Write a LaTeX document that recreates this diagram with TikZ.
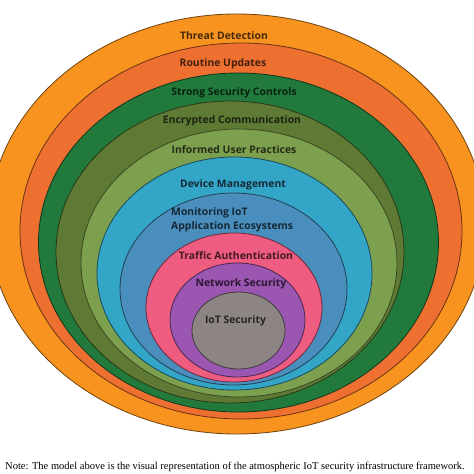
\documentclass[tikz,border=0pt]{standalone}
\usepackage{fontspec}
\setmainfont{Liberation Serif}
\newfontfamily\labfont{Open Sans}
\definecolor{cOrange}{HTML}{F7931E}
\definecolor{cRed}{HTML}{EE7030}
\definecolor{cDkGreen}{HTML}{217A3B}
\definecolor{cOlive}{HTML}{5F7A35}
\definecolor{cLtGreen}{HTML}{7DA04E}
\definecolor{cCyan}{HTML}{33A6C8}
\definecolor{cSteel}{HTML}{4A8EBE}
\definecolor{cPink}{HTML}{EE5C80}
\definecolor{cPurple}{HTML}{9B56B2}
\definecolor{cGray}{HTML}{8D8583}
\begin{document}
\begin{tikzpicture}[x=1pt,y=-1pt,
  ring/.style={fill=#1, draw=#1!45!black, line width=0.8pt},
  lab/.style={font=\labfont\bfseries\fontsize{10.4}{12}\selectfont, text=#1!28!black, inner sep=0pt},
  note/.style={font=\fontsize{10.5}{12}\selectfont, text=black, inner sep=0pt}]
\useasboundingbox (0,0) rectangle (474,474);
\fill[white] (0,0) rectangle (474,474);
\begin{scope}
\clip (0,0) rectangle (474,474);
\path[ring=cOrange]   (237,224)   ellipse [x radius=248pt, y radius=210pt];
\path[ring=cRed]      (241,231)   ellipse [x radius=221pt, y radius=188pt];
\path[ring=cDkGreen]  (238.5,242.5) ellipse [x radius=200pt, y radius=169.5pt];
\path[ring=cOlive]    (230,252)   ellipse [x radius=174pt, y radius=151pt];
\path[ring=cLtGreen]  (239,263)   ellipse [x radius=158pt, y radius=134pt];
\path[ring=cCyan]     (234.5,273.5) ellipse [x radius=137.5pt, y radius=116.5pt];
\path[ring=cSteel]    (233.5,289) ellipse [x radius=113.5pt, y radius=96pt];
\path[ring=cPink]     (234,307.5) ellipse [x radius=88pt, y radius=74.5pt];
\path[ring=cPurple]   (237.5,320) ellipse [x radius=67.5pt, y radius=57pt];
\path[ring=cGray]     (238.5,330.5) ellipse [x radius=46.5pt, y radius=38.5pt];
\end{scope}
\node[lab=cOrange]  (t1) at (224,36) {Threat Detection};
\node[lab=cRed]     (t2) at (223,64) {Routine Updates};
\node[lab=cDkGreen] (t3) at (234,93) {Strong Security Controls};
\node[lab=cOlive]   (t4) at (232,121) {Encrypted Communication};
\node[lab=cLtGreen] (t5) at (234,150) {Informed User Practices};
\node[lab=cSteel]   (t6) at (233,185) {Device Management};
\node[lab=cSteel, align=left, anchor=west, font=\labfont\bfseries\fontsize{10.4}{14}\selectfont] (t7) at (171,220) {Monitoring IoT\\Application Ecosystems};
\node[lab=cPink]    (t8) at (236,256) {Traffic Authentication};
\node[lab=cPurple]  (t9) at (241,284) {Network Security};
\node[lab=cGray]    (t10) at (235.5,321) {IoT Security};
\node[note] (n) at (235,467) {Note: The model above is the visual representation of the atmospheric IoT security infrastructure framework.};
\end{tikzpicture}
\end{document}
